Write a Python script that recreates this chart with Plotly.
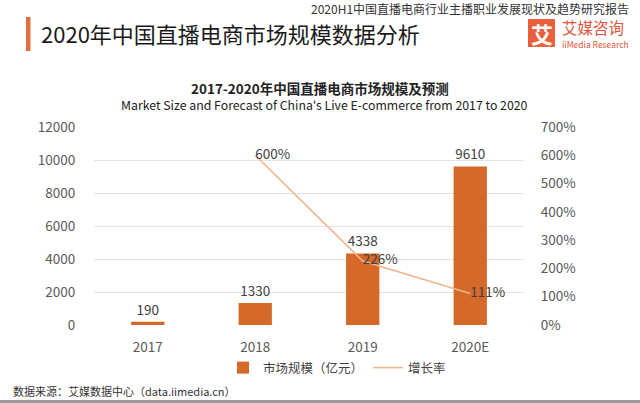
import plotly.graph_objects as go

years = ["2017", "2018", "2019", "2020E"]
market_size = [190, 1330, 4338, 9610]
growth_years = ["2018", "2019", "2020E"]
growth_rate = [6.00, 2.26, 1.11]
left_ticks = [0, 2000, 4000, 6000, 8000, 10000, 12000]
right_ticks = [0, 1, 2, 3, 4, 5, 6, 7]

W, H = 640, 403
L, R, T, B = 94, 116, 127, 78
PW, PH = W - L - R, H - T - B

def px(x):
    return (x - L) / PW

def py(y):
    return (H - B - y) / PH

FONT = "Noto Sans CJK SC"
BAR_C = "#D4692A"
LINE_C = "#F2B48C"

fig = go.Figure()
fig.add_trace(go.Bar(
    x=years, y=market_size, name="市场规模（亿元）",
    marker=dict(color=BAR_C, line=dict(width=0)),
    text=[str(v) for v in market_size], textposition="outside",
    textfont=dict(size=13.5, color="#404040", family=FONT),
    cliponaxis=False, width=0.31,
))
fig.add_trace(go.Scatter(
    x=growth_years, y=growth_rate, name="增长率", yaxis="y2",
    mode="lines+text", line=dict(color=LINE_C, width=1.6),
    text=[f"{round(v*100)}%" for v in growth_rate], textposition="middle right",
    textfont=dict(size=13.5, color="#404040", family=FONT),
    cliponaxis=False,
))

shapes = [
    dict(type="rect", xref="paper", yref="paper", x0=px(26), x1=px(30.5), y0=py(51), y1=py(17),
         fillcolor="#E2703F", line=dict(width=0), layer="above"),
    dict(type="rect", xref="paper", yref="paper", x0=px(528), x1=px(555), y0=py(47), y1=py(19),
         fillcolor="#E8613C", line=dict(width=0), layer="above"),
    dict(type="rect", xref="paper", yref="paper", x0=px(0), x1=px(640), y0=py(403), y1=py(400),
         fillcolor="#9A9A9A", line=dict(width=0), layer="above"),
]

annotations = [
    dict(text="2020H1中国直播电商行业主播职业发展现状及趋势研究报告", x=px(631), y=py(8.5),
         xanchor="right", yanchor="middle", font=dict(size=12, color="#333333", family=FONT)),
    dict(text="2020年中国直播电商市场规模数据分析", x=px(39), y=py(33),
         xanchor="left", yanchor="middle", font=dict(size=22, color="#1A1A1A", family=FONT)),
    dict(text="<b>艾</b>", x=px(541.5), y=py(33), xanchor="center", yanchor="middle",
         font=dict(size=22, color="white", family=FONT)),
    dict(text="艾媒咨询", x=px(560), y=py(26.5), xanchor="left", yanchor="middle",
         font=dict(size=15.5, color="#E2543A", family=FONT)),
    dict(text="iiMedia Research", x=px(560), y=py(44), xanchor="left", yanchor="middle",
         font=dict(size=8.5, color="#E2543A", family=FONT)),
    dict(text="<b>2017-2020年中国直播电商市场规模及预测</b>", x=px(320), y=py(88),
         xanchor="center", yanchor="middle", font=dict(size=13.5, color="#222222", family=FONT)),
    dict(text="Market Size and Forecast of China's Live E-commerce from 2017 to 2020", x=px(324), y=py(105),
         xanchor="center", yanchor="middle", font=dict(size=12.3, color="#222222", family=FONT)),
    dict(text="数据来源：艾媒数据中心（data.iimedia.cn）", x=px(11), y=py(391),
         xanchor="left", yanchor="middle", font=dict(size=11, color="#333333", family=FONT)),
]
for a in annotations:
    a.update(xref="paper", yref="paper", showarrow=False)

fig.update_layout(
    width=W, height=H,
    margin=dict(l=L, r=R, t=T, b=B, autoexpand=False),
    paper_bgcolor="white", plot_bgcolor="white",
    font=dict(family=FONT, color="#595959", size=13),
    bargap=0.69,
    xaxis=dict(type="category", categoryorder="array", categoryarray=years,
               showgrid=False, showline=False, zeroline=False,
               ticks="outside", ticklen=10, tickcolor="rgba(0,0,0,0)",
               tickfont=dict(size=13.5, color="#595959")),
    yaxis=dict(range=[0, 12000], tickvals=left_ticks, ticktext=[str(v) for v in left_ticks],
               showgrid=True, gridcolor="#E3E3E3", gridwidth=1, zeroline=False, showline=False,
               ticks="outside", ticklen=15, tickcolor="rgba(0,0,0,0)",
               tickfont=dict(size=13.5, color="#595959")),
    yaxis2=dict(range=[0, 7], tickvals=right_ticks, ticktext=[f"{v*100}%" for v in right_ticks],
                overlaying="y", side="right", showgrid=False, zeroline=False, showline=False,
                ticks="outside", ticklen=13, tickcolor="rgba(0,0,0,0)",
                tickfont=dict(size=13.5, color="#595959")),
    legend=dict(orientation="h", x=px(337), y=py(368), xanchor="center", yanchor="middle",
                font=dict(size=12.5, color="#404040", family=FONT), itemwidth=30,
                bgcolor="rgba(0,0,0,0)"),
    shapes=shapes, annotations=annotations,
)

fig.write_html("out.html")
